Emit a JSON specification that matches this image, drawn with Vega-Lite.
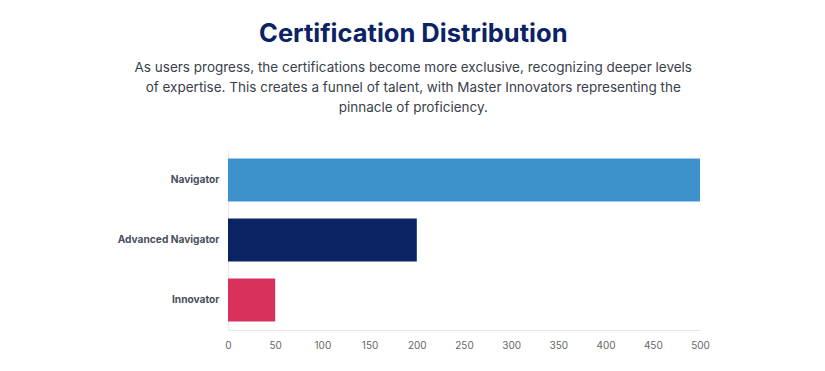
{
  "$schema": "https://vega.github.io/schema/vega-lite/v6.json",
  "autosize": {"type": "none"},
  "width": 472,
  "height": 180,
  "padding": {"left": 228, "top": 150, "right": 125, "bottom": 41},
  "background": "white",
  "config": {
    "font": "Inter",
    "view": {"stroke": null}
  },
  "title": {
    "text": "Certification Distribution",
    "subtitle": [
      "As users progress, the certifications become more exclusive, recognizing deeper levels",
      "of expertise. This creates a funnel of talent, with Master Innovators representing the",
      "pinnacle of proficiency."
    ],
    "anchor": "middle",
    "frame": "bounds",
    "font": "Inter",
    "fontSize": 25.5,
    "fontWeight": "bold",
    "color": "#0b2265",
    "subtitleFont": "Inter",
    "subtitleFontSize": 13.5,
    "subtitleColor": "#3a3f4b",
    "subtitleLineHeight": 20,
    "subtitlePadding": 13,
    "offset": 36
  },
  "data": {
    "values": [
      {"certification": "Navigator", "count": 500},
      {"certification": "Advanced Navigator", "count": 200},
      {"certification": "Innovator", "count": 50}
    ]
  },
  "mark": {"type": "bar"},
  "encoding": {
    "y": {
      "field": "certification",
      "type": "nominal",
      "sort": ["Navigator", "Advanced Navigator", "Innovator"],
      "scale": {"paddingInner": 0.28, "paddingOuter": 0.14},
      "axis": {
        "title": null,
        "ticks": false,
        "domainColor": "#e6e6e6",
        "labelFont": "Inter",
        "labelFontSize": 10.2,
        "labelFontWeight": "bold",
        "labelColor": "#4a5060",
        "labelPadding": 9
      }
    },
    "x": {
      "field": "count",
      "type": "quantitative",
      "scale": {"domain": [0, 500], "nice": false},
      "axis": {
        "title": null,
        "values": [0, 50, 100, 150, 200, 250, 300, 350, 400, 450, 500],
        "grid": false,
        "ticks": false,
        "labelFlush": false,
        "labelBound": false,
        "domainColor": "#e6e6e6",
        "labelFont": "Inter",
        "labelFontSize": 10,
        "labelColor": "#666666",
        "labelPadding": 10
      }
    },
    "color": {
      "field": "certification",
      "type": "nominal",
      "scale": {
        "domain": ["Navigator", "Advanced Navigator", "Innovator"],
        "range": ["#3e92cc", "#0a2463", "#d8315b"]
      },
      "legend": null
    }
  }
}
